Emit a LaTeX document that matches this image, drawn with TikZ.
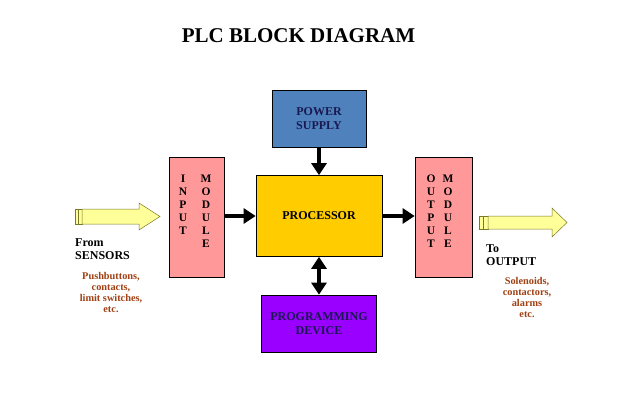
\documentclass[tikz,border=0pt]{standalone}
\usepackage{fontspec}
\setmainfont{Liberation Serif}
\usetikzlibrary{arrows.meta}
\definecolor{psblue}{RGB}{79,129,189}
\definecolor{procgold}{RGB}{255,204,0}
\definecolor{modpink}{RGB}{255,153,153}
\definecolor{progpurple}{RGB}{153,0,255}
\definecolor{navytxt}{RGB}{25,25,80}
\definecolor{browntxt}{RGB}{160,64,20}
\definecolor{ylwfill}{RGB}{255,255,153}
\definecolor{ylwline}{RGB}{120,120,40}
\begin{document}
\begin{tikzpicture}[x=1pt,y=-1pt,
  box/.style={draw=black,line width=0.6pt,inner sep=0pt,align=center,font=\bfseries\fontsize{12}{14}\selectfont},
  blk/.style={line width=4pt,-{Triangle[width=15pt,length=12pt]}},
  blkboth/.style={line width=4pt,{Triangle[width=15pt,length=12pt]}-{Triangle[width=15pt,length=12pt]}},
  modtxt/.style={align=center,inner sep=0pt,font=\bfseries\fontsize{11.5}{13}\selectfont},
  lbl/.style={align=left,inner sep=0pt,anchor=north west,font=\bfseries\fontsize{12}{13}\selectfont},
  small/.style={align=center,inner sep=0pt,text=browntxt,font=\bfseries\fontsize{10.3}{11}\selectfont},
  yarrow/.style={fill=ylwfill,draw=ylwline,line width=0.5pt}]
\useasboundingbox (0,0) rectangle (640,417);
\fill[white] (0,0) rectangle (640,417);
\node[inner sep=0pt,font=\bfseries\fontsize{21}{24}\selectfont] (title) at (298.5,36) {PLC BLOCK DIAGRAM};
\node[box,fill=psblue,text=navytxt,minimum width=94pt,minimum height=57pt] (ps) at (319,118.5) {POWER\\SUPPLY};
\node[box,fill=procgold,minimum width=126pt,minimum height=81pt] (proc) at (319,216) {PROCESSOR};
\node[box,fill=modpink,minimum width=55pt,minimum height=120pt] (inp) at (197,217) {};
\node[box,fill=modpink,minimum width=57pt,minimum height=120pt] (out) at (443.5,217) {};
\node[box,fill=progpurple,text=navytxt,minimum width=115pt,minimum height=57pt] (prog) at (319,323.5) {PROGRAMMING\\DEVICE};
\node[modtxt] (inptxt) at (194.5,211.5) {\makebox[23pt]{I}\makebox[23pt]{M}\\\makebox[23pt]{N}\makebox[23pt]{O}\\\makebox[23pt]{P}\makebox[23pt]{D}\\\makebox[23pt]{U}\makebox[23pt]{U}\\\makebox[23pt]{T}\makebox[23pt]{L}\\\makebox[23pt]{}\makebox[23pt]{E}};
\node[modtxt] (outtxt) at (439.5,211) {\makebox[17pt]{O}\makebox[17pt]{M}\\\makebox[17pt]{U}\makebox[17pt]{O}\\\makebox[17pt]{T}\makebox[17pt]{D}\\\makebox[17pt]{P}\makebox[17pt]{U}\\\makebox[17pt]{U}\makebox[17pt]{L}\\\makebox[17pt]{T}\makebox[17pt]{E}};
\draw[blk] (ps) -- (proc);
\draw[blkboth] (proc) -- (prog);
\draw[blk] (inp.east |- proc) -- (proc);
\draw[blk] (proc) -- (out.west |- proc);
% yellow block arrows
\draw[yarrow] (75,209) rectangle (78,224);
\draw[yarrow] (78,209) rectangle (82,224);
\draw[yarrow] (82,209) -- (139,209) -- (139,203) -- (160,216.5) -- (139,230) -- (139,224) -- (82,224) -- cycle;
\draw[yarrow] (479,216) rectangle (483,229);
\draw[yarrow] (483,216) rectangle (488,229);
\draw[yarrow] (488,216) -- (552,216) -- (552,208) -- (567,222.5) -- (552,237) -- (552,229) -- (488,229) -- cycle;
\node[lbl] (from) at (75,238.5) {From\\SENSORS};
\node[small] (sens) at (111,292) {Pushbuttons,\\contacts,\\limit switches,\\etc.};
\node[lbl] (to) at (486,244.5) {To\\OUTPUT};
\node[small] (outs) at (527,297.5) {Solenoids,\\contactors,\\alarms\\etc.};
\end{tikzpicture}
\end{document}
